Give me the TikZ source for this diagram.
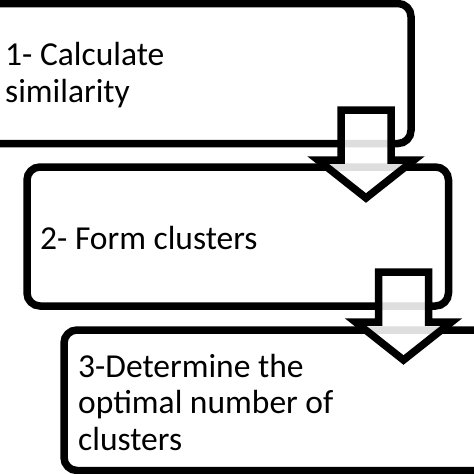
\documentclass[tikz,border=0pt]{standalone}
\usepackage{fontspec}
\setmainfont{Carlito}
\usetikzlibrary{positioning}

\tikzset{
  stepbox/.style={draw=black, line width=7.5pt, rounded corners=13pt, fill=white, inner sep=0pt},
  steptext/.style={anchor=west, align=left, inner sep=0pt, font=\fontsize{33.5}{36.5}\selectfont},
  blockarrow/.style={draw=black, line width=7.5pt, fill=white, fill opacity=0.87, line join=miter},
}

\begin{document}
\begin{tikzpicture}[x=1pt, y=-1pt]
      \useasboundingbox (0,0) rectangle (474,474);

      \node[stepbox, minimum width=451pt, minimum height=140pt] (b1) at (185.5,73.5) {};
      \node[stepbox, minimum width=421.5pt, minimum height=139pt] (b2) at (237.75,236.5) {};
      \node[stepbox, minimum width=456pt, minimum height=140.5pt] (b3) at (292,400.25) {};

      \node[steptext] (t1) at (5,75) {1- Calculate\\similarity};
      \node[steptext] (t2) at (40,238) {2- Form clusters};
      \node[steptext] (t3) at (78,402) {3-Determine the\\optimal number of\\clusters};

      % block arrows between the steps
      \coordinate (a1) at (366,110);
      \coordinate (a2) at (403.5,272);
      \foreach \a in {a1, a2}
        \draw[blockarrow] (\a) -- ++(25,0) -- ++(0,50) -- ++(23,0) -- ++(-48,38)
          -- ++(-48,-38) -- ++(23,0) -- ++(0,-50) -- cycle;
    \end{tikzpicture}
\end{document}
